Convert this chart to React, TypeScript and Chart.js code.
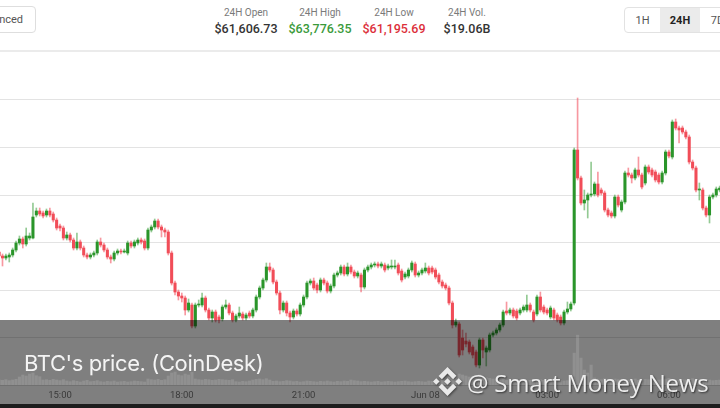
import React, { useEffect, useRef } from "react";
import { Chart, registerables } from "chart.js";

Chart.register(...registerables);

// ---- time axis (minutes from 00:00, Jun 07) ----
const START_MINUTE = 810; // first visible 5-min candle 13:30
const CANDLE_MINUTES = 5;
const VIEW_START = 811.3;
const VIEW_END = 1875.5;
const TICK_TIMES = [900, 1080, 1260, 1440, 1620, 1800];
const TICK_LABELS = ["15:00", "18:00", "21:00", "Jun 08", "03:00", "06:00"];

// ---- price axis ----
const PRICE_MIN = 60900;
const PRICE_MAX = 64220;
const GRID_PRICES = [60900, 61375, 61850, 62325, 62800, 63275, 63750];

// ---- candles (USD) ----
const OPENS = [
  62230,62190,62170,62180,62200,62250,62320,62360,62310,62370,
  62370,62600,62640,62620,62600,62640,62610,62550,62490,62470,
  62370,62400,62350,62270,62330,62270,62200,62180,62200,62220,
  62330,62300,62250,62180,62160,62220,62240,62230,62220,62320,
  62290,62320,62350,62340,62270,62450,62480,62540,62480,62450,
  62430,62220,61920,61830,61790,61770,61650,61700,61490,61700,
  61700,61770,61650,61570,61630,61580,61560,61680,61700,61620,
  61550,61590,61610,61570,61620,61590,61650,61780,61870,61950,
  62080,62050,61930,61820,61650,61720,61620,61580,61640,61610,
  61700,61780,61920,61940,61900,61850,61950,61920,61840,61890,
  62000,62020,62080,62010,62080,62030,61990,62000,61880,62050,
  62080,62100,62110,62090,62100,62070,62080,62080,62100,62040,
  61980,61990,62050,62110,62000,62020,62040,62070,62070,62050,
  62000,61930,61900,61870,61720,61500,61510,61370,61340,61330,
  61280,61230,61100,61350,61230,61250,61400,61420,61450,61500,
  61640,61620,61650,61640,61620,61650,61650,61700,61630,61610,
  61780,61680,61650,61580,61650,61600,61580,61520,61630,61660,
  61720,63250,62970,62720,62750,62800,62810,62910,62850,62820,
  62650,62620,62590,62780,62650,62730,63020,63000,62970,63050,
  63000,62920,63080,63050,63030,63000,62930,63020,63230,63180,
  63530,63470,63470,63430,63380,63130,63070,62850,62850,62670,
  62600,62780,62800,62850,
];
const CLOSES = [
  62190,62170,62190,62200,62250,62320,62360,62310,62390,62390,
  62580,62640,62610,62590,62640,62600,62550,62470,62470,62370,
  62400,62350,62270,62330,62270,62200,62180,62200,62220,62330,
  62300,62250,62180,62160,62220,62240,62230,62240,62320,62290,
  62330,62350,62330,62270,62450,62480,62540,62480,62450,62430,
  62220,61920,61830,61790,61770,61650,61720,61490,61700,61710,
  61770,61650,61570,61630,61550,61550,61680,61700,61620,61550,
  61590,61620,61570,61600,61590,61650,61780,61870,61950,62080,
  62050,61930,61820,61650,61720,61620,61580,61640,61610,61700,
  61780,61920,61940,61870,61850,61950,61920,61840,61890,62000,
  62020,62080,62010,62080,62030,61990,62020,61880,62050,62080,
  62100,62110,62090,62110,62050,62090,62090,62090,62020,61950,
  62010,62050,62120,62000,62020,62050,62070,62020,62030,61980,
  61930,61890,61870,61720,61500,61530,61200,61250,61310,61230,
  61200,61100,61350,61250,61270,61400,61420,61450,61500,61630,
  61620,61650,61590,61570,61650,61680,61700,61650,61550,61780,
  61650,61630,61620,61670,61570,61550,61520,61630,61660,61710,
  63250,62970,62720,62750,62800,62810,62910,62800,62820,62650,
  62600,62590,62780,62700,62730,63020,63000,62970,63050,63000,
  62880,63080,63030,63000,62950,62930,63020,63230,63190,63530,
  63470,63450,63430,63380,63130,63070,62850,62860,62670,62600,
  62780,62800,62860,62870,
];
const HIGHS = [
  62260,62210,62210,62220,62270,62340,62390,62380,62470,62420,
  62720,62670,62670,62640,62660,62670,62630,62570,62510,62490,
  62430,62420,62370,62420,62350,62290,62220,62220,62240,62350,
  62370,62320,62270,62200,62240,62260,62260,62260,62340,62340,
  62350,62370,62370,62360,62470,62500,62560,62560,62500,62470,
  62450,62240,61940,61850,61820,61790,61760,61720,61720,61750,
  61820,61790,61670,61650,61650,61600,61700,61750,61720,61640,
  61610,61680,61630,61620,61640,61670,61800,61890,61970,62120,
  62120,62070,61950,61840,61740,61740,61640,61660,61660,61720,
  61800,61940,61960,61970,61920,61970,61970,61940,61910,62020,
  62040,62100,62100,62120,62100,62050,62040,62020,62070,62100,
  62120,62130,62130,62130,62120,62110,62150,62150,62120,62060,
  62030,62070,62140,62130,62040,62070,62120,62090,62090,62070,
  62020,61950,61920,61890,61740,61560,61530,61450,61420,61350,
  61300,61250,61370,61370,61290,61420,61440,61470,61520,61650,
  61730,61670,61670,61660,61670,61700,61800,61720,61650,61800,
  61830,61700,61670,61690,61670,61620,61600,61650,61730,61730,
  63270,63770,62990,62850,62820,63130,62930,63030,62870,62840,
  62670,62640,62800,62800,62750,63040,63070,63020,63070,63180,
  63020,63100,63100,63070,63050,63020,63040,63250,63250,63550,
  63560,63490,63490,63450,63400,63150,63090,62920,62870,62690,
  62800,62820,62880,62890,
];
const LOWS = [
  62170,62090,62150,62130,62180,62230,62300,62270,62290,62350,
  62360,62580,62590,62570,62580,62580,62530,62450,62440,62350,
  62350,62330,62250,62250,62250,62180,62160,62160,62180,62200,
  62280,62230,62160,62120,62140,62200,62210,62220,62200,62270,
  62270,62300,62310,62250,62250,62430,62460,62460,62380,62380,
  62200,61900,61800,61750,61730,61600,61630,61470,61470,61680,
  61680,61630,61550,61530,61530,61520,61540,61660,61600,61530,
  61530,61570,61550,61550,61570,61570,61630,61760,61850,61930,
  62030,61910,61800,61610,61630,61590,61530,61560,61590,61590,
  61680,61760,61900,61850,61820,61830,61900,61820,61820,61870,
  61980,62000,61990,61990,62010,61970,61970,61830,61860,62030,
  62060,62080,62070,62070,62030,62050,62060,62060,62000,61930,
  61960,61970,62030,61980,61980,62000,62020,62000,62010,61960,
  61910,61870,61850,61700,61470,61480,61180,61200,61280,61210,
  61170,61080,61070,61170,61090,61230,61380,61400,61430,61480,
  61600,61600,61570,61550,61600,61630,61630,61630,61530,61590,
  61630,61610,61600,61560,61550,61530,61500,61500,61610,61640,
  61700,62950,62700,62650,62570,62780,62790,62780,62800,62630,
  62580,62570,62570,62680,62630,62710,62980,62920,62950,62980,
  62860,62900,63010,62980,62930,62910,62910,63000,63170,63160,
  63450,63320,63410,63360,63110,63050,62830,62750,62650,62580,
  62520,62760,62780,62830,
];
// ---- volume per candle (BTC) ----
const VOLUMES = [
  15,14,16,13,15,17,
  24,30,27,33,36,28,25,
  15,16,14,17,15,13,16,
  12,10,13,11,9,12,14,10,11,13,
  10,9,11,10,12,9,10,11,9,10,12,11,10,9,
  18,16,15,17,14,16,
  27,36,39,30,28,33,30,38,
  18,16,15,17,16,14,15,17,16,15,14,16,
  10,9,11,10,12,
  15,17,18,16,19,15,
  11,12,10,11,13,12,10,11,9,10,12,11,10,9,11,10,12,10,9,11,10,12,11,
  15,13,12,
  10,11,10,9,10,11,9,10,11,10,9,10,11,12,10,9,10,11,10,9,
  12,11,13,12,14,13,
  24,30,27,33,30,27,24,26,29,31,25,22,20,
  18,16,15,17,14,16,15,13,14,16,15,14,17,15,16,
  14,13,12,15,13,14,12,13,16,
  96,150,81,45,36,60,
  21,18,16,19,17,15,18,16,14,17,15,16,18,14,15,17,16,14,13,15,
  16,18,20,17,15,14,16,15,17,19,16,15,14,16,15,13,14,15,
];

// ---- header texts ----
const STAT_LABELS = ["24H Open", "24H High", "24H Low", "24H Vol."];
const STAT_VALUES = ["$61,606.73", "$63,776.35", "$61,195.69", "$19.06B"];
const STAT_COLORS = ["#333333", "#3a9a3a", "#dc2f3a", "#333333"];
const STAT_CENTERS = [246, 320, 394, 467];
const RANGE_LABELS = ["1H", "24H", "7D"];
const CAPTION = "BTC's price. (CoinDesk)";
const WATERMARK = "@ Smart Money News";

const UP = "#2a952a";
const DOWN = "#f14d58";
const UP_WICK = "rgba(58,158,58,0.55)";
const DOWN_WICK = "rgba(242,84,96,0.6)";

const CANVAS_TOP = 53;
const SHADE_TOP = 320 - CANVAS_TOP;

const shadePlugin = {
  id: "captionShade",
  beforeDatasetDraw(chart: any, args: any) {
    if (args.index !== 2) return;
    const ctx = chart.ctx;
    ctx.save();
    ctx.fillStyle = "rgba(0,0,0,0.5)";
    ctx.fillRect(0, SHADE_TOP, chart.width, chart.height - SHADE_TOP);
    ctx.fillStyle = "#1d1d1d";
    ctx.fillRect(0, chart.height - 4, chart.width, 4);
    ctx.restore();
  },
};

function CandleChart() {
  const ref = useRef<HTMLCanvasElement | null>(null);
  useEffect(() => {
    if (!ref.current) return;
    const times = OPENS.map((_, i) => START_MINUTE + i * CANDLE_MINUTES);
    const up = CLOSES.map((c, i) => c >= OPENS[i]);
    const chart = new Chart(ref.current, {
      type: "bar",
      data: {
        datasets: [
          {
            label: "wick",
            data: times.map((t, i) => ({ x: t, y: [LOWS[i], HIGHS[i]] })) as any,
            backgroundColor: up.map((u) => (u ? UP_WICK : DOWN_WICK)),
            barThickness: 1,
            grouped: false,
            order: 2,
            clip: 0,
          } as any,
          {
            label: "body",
            data: times.map((t, i) => ({ x: t, y: [OPENS[i], CLOSES[i]] })) as any,
            backgroundColor: up.map((u) => (u ? UP : DOWN)),
            barThickness: 2.4,
            minBarLength: 1,
            grouped: false,
            order: 1,
            clip: 0,
          } as any,
          {
            label: "volume",
            data: times.map((t, i) => ({ x: t, y: VOLUMES[i] ?? 0 })) as any,
            backgroundColor: "rgba(255,255,255,0.13)",
            barThickness: 2.4,
            grouped: false,
            yAxisID: "v",
            order: 0,
            clip: 0,
          } as any,
        ],
      },
      options: {
        animation: false,
        responsive: true,
        maintainAspectRatio: false,
        layout: { padding: 0 },
        plugins: { legend: { display: false }, tooltip: { enabled: false } },
        scales: {
          x: {
            type: "linear",
            min: VIEW_START,
            max: VIEW_END,
            offset: false,
            grid: { display: false, drawTicks: false, offset: false },
            border: { display: false },
            afterBuildTicks: (s: any) => {
              s.ticks = TICK_TIMES.map((v) => ({ value: v }));
            },
            afterFit: (s: any) => {
              s.height = 23;
            },
            ticks: {
              autoSkip: false,
              maxRotation: 0,
              padding: 5,
              color: "#767676",
              font: { size: 9.5, family: "Roboto, sans-serif" },
              callback: (_v: any, i: number) => TICK_LABELS[i] ?? "",
            },
          } as any,
          y: {
            min: PRICE_MIN,
            max: PRICE_MAX,
            grid: { color: "#e3e3e3", lineWidth: 1, drawTicks: false },
            border: { display: false },
            ticks: { display: false },
            afterBuildTicks: (s: any) => {
              s.ticks = GRID_PRICES.map((v) => ({ value: v }));
            },
            afterFit: (s: any) => {
              s.width = 0;
            },
          } as any,
          v: { display: false, min: 0, max: 1000 } as any,
        },
      },
      plugins: [shadePlugin],
    } as any);
    return () => chart.destroy();
  }, []);
  return (
    <div style={{ position: "absolute", left: 0, top: CANVAS_TOP, width: 720, height: 355 }}>
      <canvas ref={ref} />
    </div>
  );
}

export default function App() {
  return (
    <div
      style={{
        position: "fixed",
        left: 0,
        top: 0,
        width: 720,
        height: 408,
        overflow: "hidden",
        background: "#fff",
        fontFamily: "Roboto, sans-serif",
      }}
    >
      {/* header */}
      <div
        style={{
          position: "absolute",
          left: 0,
          top: 0,
          width: 720,
          height: 50,
          background: "#fff",
          borderBottom: "2px solid #ebebeb",
        }}
      >
        <div
          style={{
            position: "absolute",
            left: -40,
            top: 6,
            width: 76,
            height: 27,
            border: "1px solid #dedede",
            borderRadius: 4,
            display: "flex",
            alignItems: "center",
            justifyContent: "flex-end",
            paddingRight: 12,
            boxSizing: "border-box",
            fontSize: 11,
            color: "#555",
          }}
        >
          Advanced
        </div>
        {STAT_LABELS.map((l, i) => (
          <div key={l} style={{ position: "absolute", left: STAT_CENTERS[i] - 50, width: 100, top: 0, textAlign: "center" }}>
            <div style={{ position: "absolute", left: 0, width: 100, top: 7, fontSize: 10, lineHeight: "12px", color: "#7a7a7a" }}>{l}</div>
            <div
              style={{
                position: "absolute",
                left: 0,
                width: 100,
                top: 21,
                fontSize: 12.5,
                lineHeight: "16px",
                fontWeight: 500,
                color: STAT_COLORS[i],
              }}
            >
              {STAT_VALUES[i]}
            </div>
          </div>
        ))}
        <div
          style={{
            position: "absolute",
            left: 624,
            top: 7,
            height: 26,
            width: 120,
            border: "1px solid #e2e2e2",
            borderRadius: 4,
            display: "flex",
            boxSizing: "border-box",
            fontSize: 11,
          }}
        >
          {RANGE_LABELS.map((r, i) => (
            <div
              key={r}
              style={{
                width: i === 1 ? 40 : 35,
                display: "flex",
                alignItems: "center",
                justifyContent: "center",
                background: i === 1 ? "#ebebeb" : "transparent",
                fontWeight: i === 1 ? 700 : 400,
                color: i === 1 ? "#222" : "#555",
              }}
            >
              {r}
            </div>
          ))}
        </div>
      </div>

      <CandleChart />

      {/* caption overlay */}
      <div
        style={{
          position: "absolute",
          left: 24,
          top: 352,
          fontFamily: "Inter, Roboto, sans-serif",
          fontSize: 22,
          lineHeight: "22px",
          color: "#f4f4f4",
          letterSpacing: -0.4,
          whiteSpace: "nowrap",
        }}
      >
        {CAPTION}
      </div>
      <svg
        width={29}
        height={29}
        viewBox="0 0 24 24"
        style={{ position: "absolute", left: 433, top: 367, filter: "drop-shadow(1px 1px 1px rgba(0,0,0,0.5))" }}
      >
        <path
          fill="#e9e9e9"
          d="M16.624 13.9202l2.7175 2.7154-7.353 7.353-7.353-7.352 2.7175-2.7164 4.6355 4.6595 4.6356-4.6595zm4.6366-4.6366L24 12l-2.7154 2.7164L18.5682 12l2.6924-2.7164zm-9.272.001l2.7163 2.6914-2.7164 2.7174v-.001L9.2721 12l2.7164-2.7154zm-9.2722-.001L5.4088 12l-2.6914 2.6924L0 12l2.7164-2.7164zM11.9885.0115l7.353 7.329-2.7174 2.7154-4.6356-4.6356-4.6355 4.6595-2.7174-2.7154 7.353-7.353z"
        />
      </svg>
      <div
        style={{
          position: "absolute",
          left: 467,
          top: 371,
          fontFamily: "'Open Sans', sans-serif",
          fontSize: 24,
          lineHeight: "24px",
          letterSpacing: -0.2,
          color: "#ededed",
          whiteSpace: "nowrap",
          textShadow: "1px 1px 2px rgba(0,0,0,0.6)",
        }}
      >
        {WATERMARK}
      </div>
    </div>
  );
}
